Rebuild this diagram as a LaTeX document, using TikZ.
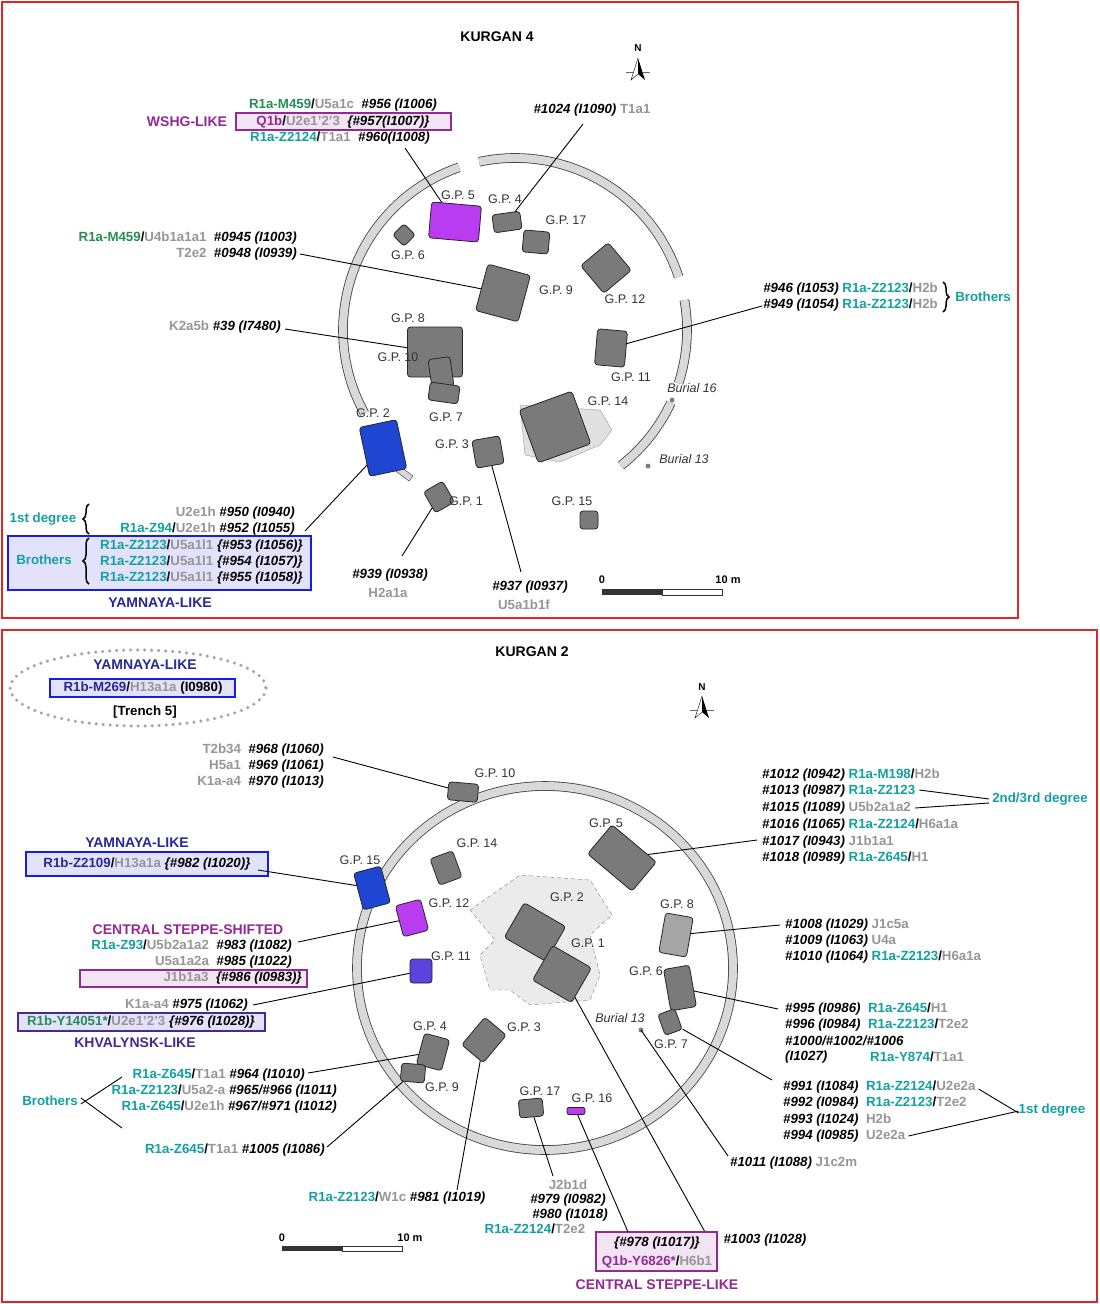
\documentclass[tikz,border=0pt]{standalone}
\usepackage{fontspec}
\setmainfont{Liberation Sans}
\usetikzlibrary{decorations.pathreplacing,shapes.geometric,patterns}
\definecolor{cgrn}{RGB}{40,140,90}
\definecolor{cteal}{RGB}{20,160,160}
\definecolor{chg}{RGB}{150,150,150}
\definecolor{cpur}{RGB}{150,40,150}
\definecolor{cpurfill}{RGB}{242,228,242}
\definecolor{cblue}{RGB}{20,30,230}
\definecolor{cboxfill}{RGB}{226,226,250}
\definecolor{cnavy}{RGB}{40,40,150}
\definecolor{cind}{RGB}{70,40,150}
\definecolor{cpit}{RGB}{122,122,122}
\definecolor{cppit}{RGB}{185,60,240}
\definecolor{cbpit}{RGB}{30,70,210}
\definecolor{cred}{RGB}{220,40,40}
\newcommand\cG[1]{\textcolor{cgrn}{#1}}
\newcommand\cT[1]{\textcolor{cteal}{#1}}
\newcommand\cH[1]{\textcolor{chg}{#1}}
\newcommand\cI[1]{{\itshape #1}}
\newcommand\cN[1]{\textcolor{cnavy}{#1}}
\begin{document}
\begin{tikzpicture}[x=1pt,y=-1pt,
  txt/.style={inner sep=0pt,font=\bfseries\fontsize{13.3}{15}\selectfont},
  gp/.style={inner sep=0pt,font=\fontsize{12.5}{14}\selectfont,text=black!80},
  pit/.style={draw=black!85,fill=cpit,rounded corners=3pt,inner sep=0pt,line width=0.8pt},
  ppit/.style={pit,fill=cppit},
  bpit/.style={pit,fill=cbpit},
  ditch/.style={draw=black!75,line width=0.8pt,double=black!15,double distance=8pt},
  con/.style={black,line width=0.9pt},
  pbox/.style={draw=cpur,fill=cpurfill,line width=1.8pt},
  bbox/.style={draw=cblue,fill=cboxfill,line width=2pt},
  frame/.style={draw=cred,line width=2.5pt},
  br/.style={decorate,decoration={brace,amplitude=6pt},line width=1.5pt},
  big/.style={inner sep=0pt,font=\bfseries\fontsize{14}{16}\selectfont},
  tit/.style={inner sep=0pt,font=\bfseries\fontsize{14}{16}\selectfont}]
\useasboundingbox (0,0) rectangle (1100,1304);
\fill[white] (0,0) rectangle (1100,1304);
\draw[frame] (2,2) rectangle (1018,618);
\draw[frame] (2,630) rectangle (1097,1302);

%================ KURGAN 4 =================
\node[tit] (k4t) at (497,37) {KURGAN 4};
\node[inner sep=0pt,font=\bfseries\fontsize{10}{11}\selectfont] (k4n) at (638,48) {N};
\fill[black] (638,58) -- (645,80) -- (638,74) -- cycle;
\draw[black] (638,58) -- (631,80) -- (638,74);
\draw[black!60] (626,72) -- (633,72) (643,72) -- (650,72);
% ditch
\coordinate (k4c) at (515,330);
\draw[ditch] ([shift={(151:172)}]k4c) arc[start angle=151,end angle=251,radius=172];
\draw[ditch] ([shift={(258:172)}]k4c) arc[start angle=258,end angle=342,radius=172];
\draw[ditch] ([shift={(350:172)}]k4c) arc[start angle=350,end angle=378,radius=172];
\draw[ditch] ([shift={(25:172)}]k4c) arc[start angle=25,end angle=52,radius=172];
% pits
\fill[black!12,draw=black!40] (520,405) -- (600,410) -- (612,430) -- (600,445) -- (560,462) -- (525,455) -- cycle;
\node[ppit,minimum width=50pt,minimum height=36pt,rotate=-5] (k4p5) at (455,222) {};
\node[pit,minimum width=28pt,minimum height=18pt,rotate=8] (k4p4) at (507,222) {};
\node[pit,minimum width=16pt,minimum height=16pt,rotate=45] (k4p6) at (404,235) {};
\node[pit,minimum width=26pt,minimum height=22pt,rotate=-5] (k4p17) at (536,242) {};
\node[pit,minimum width=44pt,minimum height=48pt,rotate=-15] (k4p9) at (503,293) {};
\node[pit,minimum width=36pt,minimum height=36pt,rotate=40] (k4p12) at (606,268) {};
\node[pit,minimum width=55pt,minimum height=50pt] (k4p8) at (435,352) {};
\node[pit,minimum width=22pt,minimum height=30pt,rotate=8] (k4p10) at (441,373) {};
\node[pit,minimum width=30pt,minimum height=18pt,rotate=-8] (k4p7) at (444,393) {};
\node[pit,minimum width=30pt,minimum height=36pt,rotate=-5] (k4p11) at (611,348) {};
\node[pit,minimum width=56pt,minimum height=56pt,rotate=20] (k4p14) at (555,427) {};
\draw[black!80,fill=black!15] (397,464) -- (413,476) -- (409,481) -- (393,469) -- cycle;
\node[bpit,minimum width=38pt,minimum height=50pt,rotate=12] (k4p2) at (383,448) {};
\node[pit,minimum width=28pt,minimum height=28pt,rotate=10] (k4p3) at (488,452) {};
\node[pit,minimum width=22pt,minimum height=24pt,rotate=30] (k4p1) at (439,497) {};
\node[pit,minimum width=18pt,minimum height=18pt] (k4p15) at (589,520) {};
\node[gp] at (458,195) {G.P. 5};
\node[gp] at (505,199) {G.P. 4};
\node[gp] at (408,255) {G.P. 6};
\node[gp] at (566,220) {G.P. 17};
\node[gp] at (556,290) {G.P. 9};
\node[gp] at (625,299) {G.P. 12};
\node[gp] at (408,318) {G.P. 8};
\node[gp] at (398,357) {G.P. 10};
\node[gp] at (446,417) {G.P. 7};
\node[gp] at (631,377) {G.P. 11};
\node[gp] at (608,401) {G.P. 14};
\node[gp] at (373,413) {G.P. 2};
\node[gp] at (452,444) {G.P. 3};
\node[gp] at (466,501) {G.P. 1};
\node[gp] at (572,501) {G.P. 15};
\node[gp,font=\itshape\fontsize{12.5}{14}\selectfont] (k4b16) at (692,388) {Burial 16};
\node[gp,font=\itshape\fontsize{12.5}{14}\selectfont] (k4b13) at (684,459) {Burial 13};
\fill[black!50] (672,400) circle (2.5pt) (648,466) circle (2.5pt);
% labels
\node[txt] (k4a1) at (343,105) {\cG{R1a-M459}/\cH{U5a1c}\ \ \cI{\#956 (I1006)}};
\draw[pbox] (236,113) rectangle (451,130);
\node[txt] (k4a2) at (343,122) {\textcolor{cpur}{Q1b}/\cH{U2e1'2'3}\ \ \cI{\{\#957(I1007)\}}};
\node[txt] (k4a3) at (340,138) {\cT{R1a-Z2124}/\cH{T1a1}\ \ \cI{\#960(I1008)}};
\node[big,text=cpur] (k4w) at (187,122) {WSHG-LIKE};
\coordinate (k4e1) at (405,148);
\draw[con] (k4e1) -- (k4p5);
\node[txt] (k4b) at (592,110) {\cI{\#1024 (I1090)}\ \cH{T1a1}};
\coordinate (k4e2) at (583,124);
\draw[con] (k4e2) -- (k4p4);
\node[txt,anchor=east] (k4c1) at (297,238) {\cG{R1a-M459}/\cH{U4b1a1a1}\ \ \cI{\#0945 (I1003)}};
\node[txt,anchor=east] (k4c2) at (297,254) {\cH{T2e2}\ \ \cI{\#0948 (I0939)}};
\draw[con] (k4c2.east) ++(3,0) -- (k4p9);
\node[txt,anchor=east] (k4d1) at (938,289) {\cI{\#946 (I1053)}\ \cT{R1a-Z2123}/\cH{H2b}};
\node[txt,anchor=east] (k4d2) at (938,305) {\cI{\#949 (I1054)}\ \cT{R1a-Z2123}/\cH{H2b}};
\draw[br] (943,282) -- (943,312);
\node[txt,text=cteal] (k4br) at (983,297) {Brothers};
\coordinate (k4e3) at (762,306);
\draw[con] (k4e3) -- (k4p11);
\node[txt,anchor=east] (k4f) at (281,327) {\cH{K2a5b}\ \cI{\#39 (I7480)}};
\draw[con] (k4f.east) ++(4,2) -- (k4p8);
\node[txt,text=cteal] (k4g0) at (43,519) {1st degree};
\draw[br] (89,534) -- (89,504);
\node[txt,anchor=east] (k4g1) at (295,513) {\cH{U2e1h}\ \cI{\#950 (I0940)}};
\node[txt,anchor=east] (k4g2) at (295,529) {\cT{R1a-Z94}/\cH{U2e1h}\ \cI{\#952 (I1055)}};
\draw[bbox] (8,536) rectangle (311,590);
\node[txt,text=cteal] (k4h0) at (44,560) {Brothers};
\draw[br] (89,584) -- (89,538);
\node[txt,anchor=east] (k4h1) at (303,546) {\cT{R1a-Z2123}/\cH{U5a1l1}\ \cI{\{\#953 (I1056)\}}};
\node[txt,anchor=east] (k4h2) at (303,562) {\cT{R1a-Z2123}/\cH{U5a1l1}\ \cI{\{\#954 (I1057)\}}};
\node[txt,anchor=east] (k4h3) at (303,578) {\cT{R1a-Z2123}/\cH{U5a1l1}\ \cI{\{\#955 (I1058)\}}};
\node[big,text=cnavy] (k4y) at (160,603) {YAMNAYA-LIKE};
\coordinate (k4e4) at (305,531);
\draw[con] (k4e4) -- (k4p2);
\node[txt] (k4i1) at (390,575) {\cI{\#939 (I0938)}};
\node[txt] (k4i2) at (388,593) {\cH{H2a1a}};
\coordinate (k4e5) at (402,556);
\draw[con] (k4e5) -- (k4p1);
\node[txt] (k4j1) at (530,587) {\cI{\#937 (I0937)}};
\node[txt] (k4j2) at (524,605) {\cH{U5a1b1f}};
\coordinate (k4e6) at (521,572);
\draw[con] (k4e6) -- (k4p3);
\node[txt,font=\bfseries\fontsize{11}{12}\selectfont] (k4s0) at (602,580) {0};
\node[txt,font=\bfseries\fontsize{11}{12}\selectfont] (k4s1) at (728,580) {10 m};
\fill[black!80] (602,589) rectangle (662,595);
\draw[black!80,fill=white] (662,589) rectangle (722,595);

%================ KURGAN 2 =================
\node[tit] (k2t) at (532,652) {KURGAN 2};
\node[inner sep=0pt,font=\bfseries\fontsize{10}{11}\selectfont] (k2n) at (702,687) {N};
\fill[black] (702,696) -- (709,718) -- (702,712) -- cycle;
\draw[black] (702,696) -- (695,718) -- (702,712);
\draw[black!60] (690,710) -- (697,710) (707,710) -- (714,710);
\draw[gray!70,line width=3.5pt,dash pattern=on 0pt off 7pt,line cap=round] (138,688) ellipse[x radius=128,y radius=38];
\node[big,text=cnavy] (k2y0) at (145,665) {YAMNAYA-LIKE};
\draw[bbox] (50,679) rectangle (235,697);
\node[txt] (k2y1) at (143,688) {\cN{R1b-M269}/\cH{H13a1a}\ (I0980)};
\node[txt] (k2tr) at (145,712) {[Trench 5]};
% ring
\draw[ditch] (545,968) ellipse[x radius=188,y radius=182];
\fill[black!8,draw=black!50,dash pattern=on 4pt off 3pt] (470,910) -- (520,875) -- (590,880) -- (612,915) -- (590,935) -- (600,975) -- (590,1000) -- (530,1005) -- (510,990) -- (490,990) -- (480,955) -- (495,940) -- cycle;
\node[pit,minimum width=30pt,minimum height=18pt,rotate=-5] (k2p10) at (463,792) {};
\node[bpit,minimum width=28pt,minimum height=38pt,rotate=15] (k2p15) at (372,888) {};
\node[pit,minimum width=24pt,minimum height=28pt,rotate=20] (k2p14) at (446,868) {};
\node[pit,minimum width=38pt,minimum height=58pt,rotate=50] (k2p5) at (622,858) {};
\node[ppit,minimum width=26pt,minimum height=32pt,rotate=15] (k2p12) at (412,918) {};
\node[pit,minimum width=40pt,minimum height=48pt,rotate=60] (k2p2) at (535,932) {};
\node[pit,fill=black!35,minimum width=28pt,minimum height=40pt,rotate=-10] (k2p8) at (676,935) {};
\node[pit,fill=cppit!40!cbpit,minimum width=22pt,minimum height=24pt] (k2p11) at (421,971) {};
\node[pit,minimum width=40pt,minimum height=45pt,rotate=60] (k2p1) at (562,974) {};
\node[pit,minimum width=26pt,minimum height=42pt,rotate=10] (k2p6) at (680,988) {};
\node[pit,minimum width=18pt,minimum height=22pt,rotate=20] (k2p7) at (670,1022) {};
\node[pit,minimum width=26pt,minimum height=32pt,rotate=-15] (k2p4) at (433,1052) {};
\node[pit,minimum width=28pt,minimum height=36pt,rotate=-40] (k2p3) at (484,1040) {};
\node[pit,minimum width=24pt,minimum height=18pt,rotate=-5] (k2p9) at (413,1073) {};
\node[pit,minimum width=24pt,minimum height=18pt,rotate=5] (k2p17) at (531,1108) {};
\node[ppit,minimum width=18pt,minimum height=7pt,rounded corners=2pt] (k2p16) at (576,1111) {};
\fill[black!50] (641,1030) circle (2.5pt);
\coordinate (k2b13m) at (641,1030);
\node[gp] at (495,773) {G.P. 10};
\node[gp] at (360,860) {G.P. 15};
\node[gp] at (477,843) {G.P. 14};
\node[gp] at (606,823) {G.P. 5};
\node[gp] at (449,903) {G.P. 12};
\node[gp] at (567,897) {G.P. 2};
\node[gp] at (677,904) {G.P. 8};
\node[gp] at (451,956) {G.P. 11};
\node[gp] at (588,943) {G.P. 1};
\node[gp] at (646,971) {G.P. 6};
\node[gp] at (671,1044) {G.P. 7};
\node[gp,font=\itshape\fontsize{12.5}{14}\selectfont] (k2b13) at (620,1018) {Burial 13};
\node[gp] at (430,1026) {G.P. 4};
\node[gp] at (524,1027) {G.P. 3};
\node[gp] at (442,1087) {G.P. 9};
\node[gp] at (540,1091) {G.P. 17};
\node[gp] at (592,1098) {G.P. 16};
% left labels
\node[txt,anchor=east] (k2a1) at (324,750) {\cH{T2b34}\ \ \cI{\#968 (I1060)}};
\node[txt,anchor=east] (k2a2) at (324,766) {\cH{H5a1}\ \ \cI{\#969 (I1061)}};
\node[txt,anchor=east] (k2a3) at (324,782) {\cH{K1a-a4}\ \ \cI{\#970 (I1013)}};
\coordinate (k2e1) at (333,757);
\draw[con] (k2e1) -- (k2p10);
\node[big,text=cnavy] (k2b0) at (137,843) {YAMNAYA-LIKE};
\draw[bbox] (26,852) rectangle (268,876);
\node[txt] (k2b1) at (147,864) {\cN{R1b-Z2109}/\cH{H13a1a}\ \cI{\{\#982 (I1020)\}}};
\coordinate (k2e2) at (258,870);
\draw[con] (k2e2) -- (k2p15);
\node[big,text=cpur] (k2c0) at (188,930) {CENTRAL STEPPE-SHIFTED};
\node[txt,anchor=east] (k2c1) at (292,946) {\cT{R1a-Z93}/\cH{U5b2a1a2}\ \ \cI{\#983 (I1082)}};
\node[txt,anchor=east] (k2c2) at (292,962) {\cH{U5a1a2a}\ \ \cI{\#985 (I1022)}};
\draw[pbox] (80,970) rectangle (307,987);
\node[txt,anchor=east] (k2c3) at (302,978) {\cH{J1b1a3}\ \ \cI{\{\#986 (I0983)\}}};
\coordinate (k2e3) at (298,942);
\draw[con] (k2e3) -- (k2p12);
\node[txt,anchor=east] (k2d1) at (248,1005) {\cH{K1a-a4}\ \cI{\#975 (I1062)}};
\draw[bbox,draw=cind] (18,1013) rectangle (265,1031);
\node[txt] (k2d2) at (141,1022) {\cG{R1b-Y14051*}/\cH{U2e1'2'3}\ \cI{\{\#976 (I1028)\}}};
\node[big,text=cind] (k2d0) at (135,1043) {KHVALYNSK-LIKE};
\coordinate (k2e4) at (253,1005);
\draw[con] (k2e4) -- (k2p11);
% right labels
\node[txt,anchor=west] (k2f1) at (762,775) {\cI{\#1012 (I0942)}\ \cT{R1a-M198}/\cH{H2b}};
\node[txt,anchor=west] (k2f2) at (762,791) {\cI{\#1013 (I0987)}\ \cT{R1a-Z2123}};
\node[txt,anchor=west] (k2f3) at (762,808) {\cI{\#1015 (I1089)}\ \cH{U5b2a1a2}};
\node[txt,anchor=west] (k2f4) at (762,825) {\cI{\#1016 (I1065)}\ \cT{R1a-Z2124}/\cH{H6a1a}};
\node[txt,anchor=west] (k2f5) at (762,842) {\cI{\#1017 (I0943)}\ \cH{J1b1a1}};
\node[txt,anchor=west] (k2f6) at (762,858) {\cI{\#1018 (I0989)}\ \cT{R1a-Z645}/\cH{H1}};
\node[txt,text=cteal] (k2f0) at (1040,799) {2nd/3rd degree};
\coordinate (k2e5) at (757,840);
\draw[con] (k2e5) -- (k2p5);
\draw[con] (k2f2.east) ++(4,-1) -- ([xshift=-3pt]k2f0.west);
\draw[con] (k2f3.east) ++(4,0) -- ([shift={(-3pt,-4pt)}]k2f0.west);
\node[txt,anchor=west] (k2g1) at (785,925) {\cI{\#1008 (I1029)}\ \cH{J1c5a}};
\node[txt,anchor=west] (k2g2) at (785,941) {\cI{\#1009 (I1063)}\ \cH{U4a}};
\node[txt,anchor=west] (k2g3) at (785,957) {\cI{\#1010 (I1064)}\ \cT{R1a-Z2123}/\cH{H6a1a}};
\coordinate (k2e6) at (780,925);
\draw[con] (k2e6) -- (k2p8);
\node[txt,anchor=west] (k2h1) at (785,1009) {\cI{\#995 (I0986)}\ \ \cT{R1a-Z645}/\cH{H1}};
\node[txt,anchor=west] (k2h2) at (785,1025) {\cI{\#996 (I0984)}\ \ \cT{R1a-Z2123}/\cH{T2e2}};
\node[txt,anchor=west] (k2h3) at (785,1041) {\cI{\#1000/\#1002/\#1006}};
\node[txt,anchor=west] (k2h4) at (785,1057) {\cI{(I1027)}};
\node[txt,anchor=west] (k2h5) at (870,1057) {\cT{R1a-Y874}/\cH{T1a1}};
\coordinate (k2e7) at (778,1009);
\draw[con] (k2e7) -- (k2p6);
\node[txt,anchor=west] (k2i1) at (783,1087) {\cI{\#991 (I1084)}\ \ \cT{R1a-Z2124}/\cH{U2e2a}};
\node[txt,anchor=west] (k2i2) at (783,1103) {\cI{\#992 (I0984)}\ \ \cT{R1a-Z2123}/\cH{T2e2}};
\node[txt,anchor=west] (k2i3) at (783,1120) {\cI{\#993 (I1024)}\ \ \cH{H2b}};
\node[txt,anchor=west] (k2i4) at (783,1136) {\cI{\#994 (I0985)}\ \ \cH{U2e2a}};
\node[txt,text=cteal] (k2i0) at (1052,1110) {1st degree};
\draw[con] (k2i1.east) ++(3,2) -- ([yshift=-3pt]k2i0.west);
\draw[con] (k2i4.east) ++(3,0) -- ([yshift=-1pt]k2i0.west);
\coordinate (k2e8) at (772,1080);
\draw[con] (k2e8) -- (k2p7);
\node[txt,anchor=west] (k2j) at (730,1163) {\cI{\#1011 (I1088)}\ \cH{J1c2m}};
\coordinate (k2e9) at (728,1156);
\draw[con] (k2e9) -- (k2b13m);
\node[txt] (k2k) at (765,1240) {\cI{\#1003 (I1028)}};
\coordinate (k2e10) at (705,1232);
\draw[con] (k2e10) -- (k2p1);
\draw[pbox] (596,1232) rectangle (717,1271);
\node[txt] (k2l1) at (657,1243) {\cI{\{\#978 (I1017)\}}};
\node[txt] (k2l2) at (657,1262) {\textcolor{cpur}{Q1b-Y6826*}/\cH{H6b1}};
\node[big,text=cpur] (k2l0) at (657,1285) {CENTRAL STEPPE-LIKE};
\coordinate (k2e11) at (628,1232);
\draw[con] (k2e11) -- (k2p16);
\node[txt] (k2m1) at (568,1185) {\cH{J2b1d}};
\node[txt] (k2m2) at (568,1200) {\cI{\#979 (I0982)}};
\node[txt] (k2m3) at (570,1215) {\cI{\#980 (I1018)}};
\node[txt] (k2m4) at (535,1229) {\cT{R1a-Z2124}/\cH{T2e2}};
\coordinate (k2e12) at (553,1176);
\draw[con] (k2e12) -- (k2p17);
\node[txt] (k2n1) at (397,1198) {\cT{R1a-Z2123}/\cH{W1c}\ \cI{\#981 (I1019)}};
\coordinate (k2e13) at (457,1190);
\draw[con] (k2e13) -- (k2p3);
\node[txt,anchor=east] (k2o1) at (305,1075) {\cT{R1a-Z645}/\cH{T1a1}\ \cI{\#964 (I1010)}};
\node[txt,anchor=east] (k2o2) at (337,1091) {\cT{R1a-Z2123}/\cH{U5a2-a}\ \cI{\#965/\#966 (I1011)}};
\node[txt,anchor=east] (k2o3) at (337,1107) {\cT{R1a-Z645}/\cH{U2e1h}\ \cI{\#967/\#971 (I1012)}};
\node[txt,anchor=east] (k2o4) at (325,1150) {\cT{R1a-Z645}/\cH{T1a1}\ \cI{\#1005 (I1086)}};
\node[txt,text=cteal] (k2o0) at (50,1101) {Brothers};
\coordinate (k2e14) at (122,1077);
\coordinate (k2e15) at (122,1128);
\draw[con] ([shift={(3pt,-3pt)}]k2o0.east) -- (k2e14);
\draw[con] ([shift={(3pt,3pt)}]k2o0.east) -- (k2e15);
\coordinate (k2e16) at (308,1073);
\draw[con] (k2e16) -- (k2p4);
\coordinate (k2e17) at (327,1147);
\draw[con] (k2e17) -- (k2p9);
\node[txt,font=\bfseries\fontsize{11}{12}\selectfont] (k2s0) at (282,1238) {0};
\node[txt,font=\bfseries\fontsize{11}{12}\selectfont] (k2s1) at (410,1238) {10 m};
\fill[black!80] (282,1246) rectangle (342,1251);
\draw[black!80,fill=white] (342,1246) rectangle (402,1251);
\end{tikzpicture}
\end{document}
